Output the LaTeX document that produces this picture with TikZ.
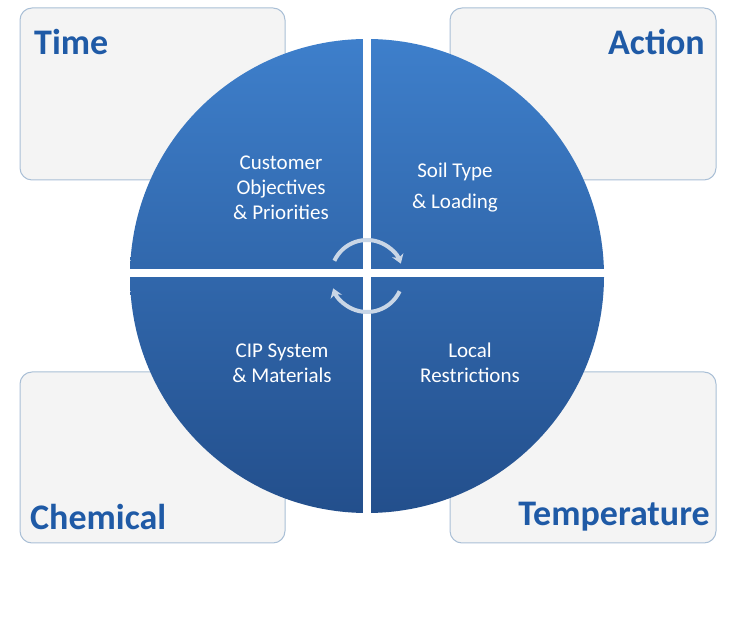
\documentclass[tikz,border=0pt]{standalone}
\usepackage{fontspec}
\setmainfont{Carlito}
\usetikzlibrary{arrows.meta}
\definecolor{boxfill}{HTML}{F4F4F4}
\definecolor{boxline}{HTML}{A9BFD6}
\definecolor{titleblue}{HTML}{1F5AA6}
\definecolor{ctop}{HTML}{3E7FCB}
\definecolor{cbot}{HTML}{234F8C}
\definecolor{arr}{HTML}{C9D6E6}
\tikzset{
  cornerbox/.style={draw=boxline, line width=1pt, fill=boxfill, rounded corners=12pt},
  title/.style={font=\fontsize{36}{40}\selectfont\bfseries, text=titleblue, inner sep=0pt},
  qlabel/.style={font=\fontsize{21}{25}\selectfont, text=white, align=center, inner sep=0pt},
  cyc/.style={draw=arr, line width=4pt, -{Stealth[length=9pt,width=12pt]}}
}
\begin{document}
\begin{tikzpicture}[x=1pt,y=1pt]
\useasboundingbox (0,0) rectangle (738,642);
% corner boxes (y = 642 - ypx)
\node[cornerbox, minimum width=265pt, minimum height=172pt] (bt) at (152.5,548) {};
\node[cornerbox, minimum width=266pt, minimum height=172pt] (ba) at (583,548) {};
\node[cornerbox, minimum width=265pt, minimum height=171pt] (bc) at (152.5,184.5) {};
\node[cornerbox, minimum width=266pt, minimum height=171pt] (bp) at (583,184.5) {};
\node[title, anchor=west] (tt) at (34,600) {Time};
\node[title, anchor=east] (ta) at (705,600) {Action};
\node[title, anchor=west] (tc) at (30,125) {Chemical};
\node[title, anchor=east] (tp) at (710,125) {Temperature};
% circle
\shade[top color=ctop, bottom color=cbot] (367,366) circle (237);
\draw[white, line width=8pt] (367,366+240) -- (367,366-240);
\draw[white, line width=8pt] (367-240,369) -- (367+240,369);
\node[qlabel] (q1) at (281,454) {Customer\\Objectives\\\& Priorities};
\node[qlabel] (q2) at (455,454) {Soil Type\\[6pt]\& Loading};
\node[qlabel] (q3) at (282,279) {CIP System\\\& Materials};
\node[qlabel] (q4) at (470,279) {Local\\Restrictions};
% cycle arrows
\coordinate (cc) at (367,366);
\draw[cyc] ([shift={(155:36)}]cc) arc[start angle=155, end angle=20, radius=36];
\draw[cyc] ([shift={(-25:36)}]cc) arc[start angle=-25, end angle=-160, radius=36];
\end{tikzpicture}
\end{document}
